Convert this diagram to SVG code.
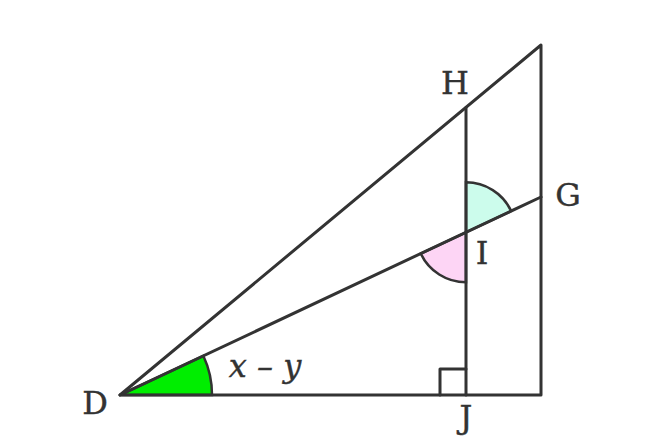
<svg xmlns="http://www.w3.org/2000/svg" width="650" height="440" viewBox="0 0 650 440">
<style>
.ln{stroke:#333;stroke-width:3;fill:none;stroke-linejoin:round;stroke-linecap:round}
.ang{stroke:#333;stroke-width:2.5}
.lb{font-family:"DejaVu Serif","Liberation Serif",serif;font-size:32px;fill:#333;text-anchor:middle;stroke:#333;stroke-width:0.4}
</style>
<rect width="650" height="440" fill="#fff"/>
<g id="angles">
<path class="ang" fill="#00ee00" d="M120,395 L212,395 A92,92 0 0,0 203.3,355.8 Z"/>
<path class="ang" fill="#ccfcec" d="M466,232.3 L466,182.3 A50,50 0 0,1 511.2,211 Z"/>
<path class="ang" fill="#fdd5f5" d="M466,232.3 L420.8,253.6 A50,50 0 0,0 466,282.3 Z"/>
</g>
<g id="connectors">
<path class="ln" d="M120,395 L541,395 L541,45 Z"/>
<line class="ln" x1="120" y1="395" x2="541" y2="197"/>
<line class="ln" x1="466" y1="107.4" x2="466" y2="395"/>
<path class="ln" d="M440,395 L440,369 L466,369"/>
</g>
<g id="D"><text class="lb" x="95" y="414">D</text></g>
<g id="J"><text class="lb" x="466" y="428">J</text></g>
<g id="H"><text class="lb" x="455" y="94">H</text></g>
<g id="G"><text class="lb" x="568" y="206">G</text></g>
<g id="I"><text class="lb" x="482" y="264">I</text></g>
<g id="label"><text class="lb" x="265" y="377" font-style="italic">x – y</text></g>
</svg>
